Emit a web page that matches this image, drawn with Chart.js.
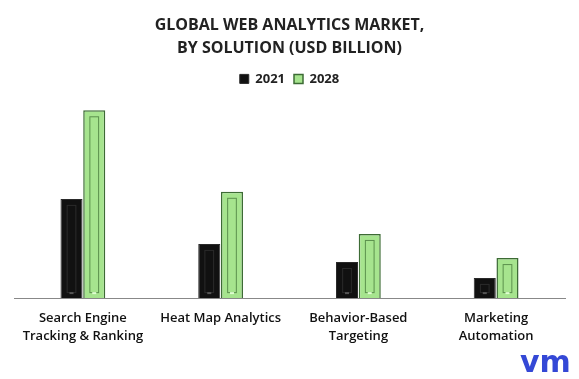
<!DOCTYPE html>
<html><head><meta charset="utf-8">
<script src="https://cdn.jsdelivr.net/npm/chart.js@4/dist/chart.umd.min.js"></script>
<style>html,body{margin:0;padding:0;background:#fff}#wrap{width:579px;height:379px}</style>
</head><body><div id="wrap"><canvas id="c" width="579" height="379"></canvas></div>
<script>
const categories = [["Search Engine","Tracking & Ranking"],"Heat Map Analytics",["Behavior-Based","Targeting"],["Marketing","Automation"]];
const values2021 = [2.8, 1.53, 1.02, 0.57];
const values2028 = [5.3, 3.0, 1.81, 1.13];
const titleLines = ["GLOBAL WEB ANALYTICS MARKET,","BY SOLUTION (USD BILLION)"];

const innerDeco = {
  id:'innerDeco',
  afterDatasetsDraw(chart){
    const ctx = chart.ctx;
    chart.data.datasets.forEach((ds,i)=>{
      const meta = chart.getDatasetMeta(i);
      meta.data.forEach(bar=>{
        const w = bar.width, l = bar.x - w/2, t = bar.y, b = bar.base;
        ctx.save();
        ctx.strokeStyle = i===0 ? 'rgba(60,60,60,0.6)' : 'rgba(60,110,50,0.7)';
        ctx.lineWidth = 1;
        const inset = Math.max(4, w*0.28);
        ctx.strokeRect(l+inset+0.5, t+6.5, w-2*inset-1, Math.max(0,b-t-12));
        ctx.fillStyle = i===0 ? '#555' : '#dfffd0';
        ctx.fillRect(bar.x-2, b-6, 4, 2);
        ctx.restore();
      });
    });
  }
};
const logo = {
  id:'logo',
  afterDraw(chart){
    const ctx = chart.ctx;
    ctx.save();
    ctx.fillStyle = '#3448d6';
    ctx.font = 'bold 30px "DejaVu Sans"';
    ctx.textBaseline = 'alphabetic';
    ctx.fillText('vm', 520, 372);
    ctx.restore();
  }
};

new Chart(document.getElementById('c'), {
  type:'bar',
  data:{
    labels: categories,
    datasets:[
      {label:'2021', data: values2021, backgroundColor:'#111111', borderColor:'#2a2a2a', borderWidth:1},
      {label:'2028', data: values2028, backgroundColor:'#a6e48e', borderColor:'#3d6b35', borderWidth:1.5}
    ]
  },
  options:{
    responsive:false, animation:false,
    layout:{padding:{left:14,right:14,top:12,bottom:31}},
    plugins:{
      title:{display:true, text:titleLines, color:'#222', font:{family:'Open Sans', size:16, weight:'bold', lineHeight:1.45}, padding:{top:2,bottom:3}},
      legend:{display:true, labels:{boxWidth:9, boxHeight:9, color:'#222', font:{family:'Open Sans', size:13, weight:'bold'}, padding:9}},
      tooltip:{enabled:false}
    },
    scales:{
      x:{grid:{display:false}, border:{display:true,color:'#888',width:1},
         ticks:{color:'#111', font:{family:'Open Sans', size:13, weight:'600', lineHeight:1.38}, maxRotation:0, autoSkip:false, padding:3}},
      y:{display:false, min:0, max:5.72}
    },
    datasets:{bar:{categoryPercentage:0.33, barPercentage:0.97}}
  },
  plugins:[innerDeco, logo]
});
</script></body></html>
